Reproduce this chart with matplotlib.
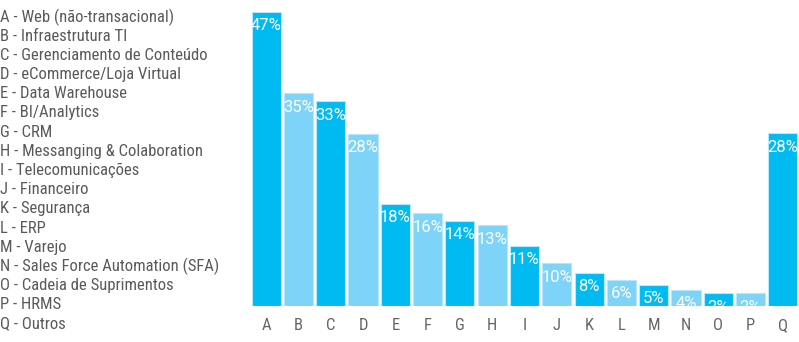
import matplotlib
matplotlib.use("Agg")
import matplotlib.pyplot as plt
from matplotlib import font_manager

categories = list("ABCDEFGHIJKLMNOPQ")
legend_labels = [
    "A - Web (não-transacional)",
    "B - Infraestrutura TI",
    "C - Gerenciamento de Conteúdo",
    "D - eCommerce/Loja Virtual",
    "E - Data Warehouse",
    "F - BI/Analytics",
    "G - CRM",
    "H - Messanging & Colaboration",
    "I - Telecomunicações",
    "J - Financeiro",
    "K - Segurança",
    "L - ERP",
    "M - Varejo",
    "N - Sales Force Automation (SFA)",
    "O - Cadeia de Suprimentos",
    "P - HRMS",
    "Q - Outros",
]
bar_heights = [47, 34.0, 32.7, 27.5, 16.3, 14.8, 13.6, 12.9, 9.6, 6.8, 5.3, 4.2, 3.4, 2.6, 2.0, 2.0, 27.6]
value_labels = ["47%", "35%", "33%", "28%", "18%", "16%", "14%", "13%", "11%", "10%",
                "8%", "6%", "5%", "4%", "2%", "2%", "28%"]

names = {f.name for f in font_manager.fontManager.ttflist}
cands = ["Roboto Condensed", "Liberation Sans Narrow", "DejaVu Sans Condensed", "Roboto"]
fam = [c for c in cands if c in names] + ["DejaVu Sans"]
plt.rcParams["font.family"] = fam

W, H = 799, 342
fig = plt.figure(figsize=(W / 100, H / 100), dpi=100)
ax = fig.add_axes([250 / W, 36 / H, 549 / W, 294 / H])

dark = "#00BAF2"
light = "#7DD3F8"
colors = [dark if i % 2 == 0 else light for i in range(len(categories))]
colors[-1] = dark

x = range(len(categories))
ax.bar(x, bar_heights, width=0.9, color=colors, edgecolor="#b5e8fc", linewidth=0.8)
for i, (h, lab) in enumerate(zip(bar_heights, value_labels)):
    ax.annotate(lab, (i, h), xytext=(0, -4.5), textcoords="offset points",
                ha="center", va="top", color="white", fontsize=12,
                family=["Roboto", "DejaVu Sans"])

ax.set_xlim(-0.5, len(categories) - 0.5)
ax.set_ylim(0, 47)
ax.set_xticks(list(x))
ax.set_xticklabels(categories, color="#666666", fontsize=12)
ax.tick_params(axis="x", length=0, pad=8.5)
ax.set_yticks([])
for s in ax.spines.values():
    s.set_visible(False)

y0, dy = 17, (324 - 17) / 16
for k, t in enumerate(legend_labels):
    fig.text(0 / W, 1 - (y0 + k * dy) / H, t, ha="left", va="center",
             color="#5a5a5a", fontsize=12)

fig.savefig("out.png", dpi=100)
